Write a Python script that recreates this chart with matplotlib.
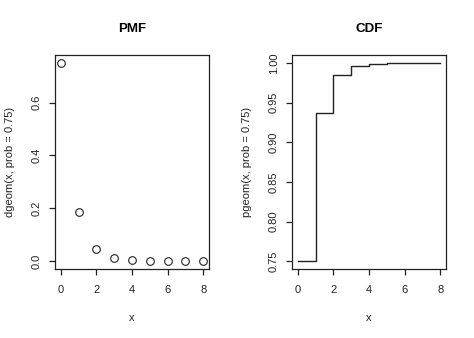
import matplotlib
import matplotlib.pyplot as plt

matplotlib.use("Agg")

plt.rcParams["font.family"] = ["Liberation Sans", "DejaVu Sans"]

# geometric distribution, prob = 0.75
x_vals = [0, 1, 2, 3, 4, 5, 6, 7, 8]
pmf_vals = [0.75, 0.1875, 0.046875, 0.01172, 0.00293, 0.00073, 0.00018, 0.00005, 0.00001]
cdf_vals = [0.75, 0.9375, 0.984375, 0.99609, 0.99902, 0.99976, 0.99994, 0.99998, 1.0]

INK = "#222222"


def r_style(ax, yticks, ylabels):
    for sp in ax.spines.values():
        sp.set_color(INK)
        sp.set_linewidth(0.9)
    ax.tick_params(direction="out", length=4.3, width=0.9, color=INK,
                   labelsize=8, labelcolor=INK)
    ax.tick_params(axis="x", pad=7.5)
    ax.tick_params(axis="y", pad=5)
    ax.set_xticks([0, 2, 4, 6, 8])
    ax.set_yticks(yticks)
    ax.set_yticklabels(ylabels, rotation=90, va="center")
    ax.set_xlabel("x", fontsize=8, color=INK, labelpad=13)


fig = plt.figure(figsize=(4.74, 3.38), dpi=100)
ax1 = fig.add_axes([0.116, 0.204, 0.325, 0.633])
ax2 = fig.add_axes([0.616, 0.204, 0.325, 0.633])

# PMF
ax1.plot(x_vals, pmf_vals, "o", mfc="none", mec=INK, ms=5.5, mew=0.8)
ax1.set_xlim(-0.32, 8.32)
ax1.set_ylim(-0.03, 0.78)
r_style(ax1, [0.0, 0.2, 0.4, 0.6], ["0.0", "0.2", "0.4", "0.6"])
ax1.set_ylabel("dgeom(x, prob = 0.75)", fontsize=8, color=INK, labelpad=12)
ax1.set_title("PMF", fontsize=9.6, fontweight="bold", pad=16.5)

# CDF
ax2.plot(x_vals, cdf_vals, drawstyle="steps-post", color=INK, lw=1.0)
ax2.set_xlim(-0.32, 8.32)
ax2.set_ylim(0.74, 1.01)
r_style(ax2, [0.75, 0.80, 0.85, 0.90, 0.95, 1.00],
        ["0.75", "0.80", "0.85", "0.90", "0.95", "1.00"])
ax2.set_ylabel("pgeom(x, prob = 0.75)", fontsize=8, color=INK, labelpad=12)
ax2.set_title("CDF", fontsize=9.6, fontweight="bold", pad=16.5)

fig.savefig("out.png", dpi=100, facecolor="white")
